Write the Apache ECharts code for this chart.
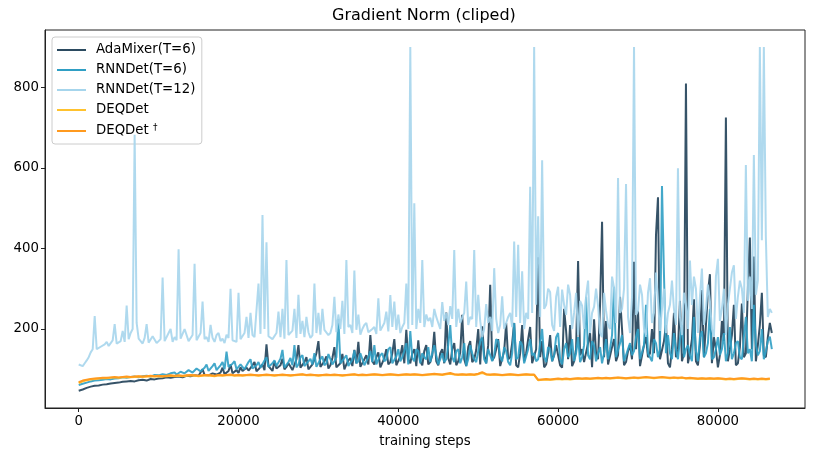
<!DOCTYPE html>
<html>
<head>
<meta charset="utf-8">
<script src="https://cdn.jsdelivr.net/npm/echarts@6/dist/echarts.min.js"></script>
<style>html,body{margin:0;padding:0;background:#fff}#c{width:815px;height:459px}</style>
</head>
<body>
<div id="c"></div>
<script>
// sample spacing in training steps (index i -> step i*STEP)
const STEP_FINE = 250;   // AdaMixer / RNNDet series
const STEP_DEQ = 500;    // DEQDet series
const xTicks = [0, 20000, 40000, 60000, 80000];
const yTicks = [200, 400, 600, 800];
const seriesNames = ['AdaMixer(T=6)', 'RNNDet(T=6)', 'RNNDet(T=12)', 'DEQDet', 'DEQDet †'];

const adaMixer = [
47,49, 50,52, 54,55, 57,58, 59,61,
60,61, 62,63, 63,64, 65,64, 66,68,
67,68, 69,68, 70,72, 71,69, 70,73,
73,72, 74,73, 72,75, 76,74, 75,77,
77,76, 78,79, 80,78, 79,82, 81,80,
82,81, 80,83, 84,82, 83,86, 85,83,
84,88, 100,86, 88,85, 87,90, 89,87,
86,92, 104,88, 92,96, 112,90, 94,98,
91,105, 96,92, 104,97, 98,110, 118,95,
100,104, 112,98, 162,108, 104,96, 120,102,
99,110, 126,100, 106,115, 118,98, 102,125,
160,104, 108,118, 130,100, 103,112, 124,140,
170,106, 108,120, 132,102, 110,128, 155,105,
104,115, 138,100, 112,122, 128,108, 148,115,
168,106, 110,125, 135,112, 185,120, 112,130,
142,105, 108,128, 150,112, 118,140, 175,110,
112,132, 160,115, 198,125, 115,140, 150,108,
172,120, 110,145, 160,112, 118,135, 193,120,
110,140, 150,115, 241,128, 112,150, 165,110,
120,142, 235,125, 108,155, 170,118, 125,148,
200,112, 207,135, 115,160, 310,122, 130,150,
175,108, 112,145, 215,125, 130,165, 215,110,
105,140, 210,120, 140,175, 205,115, 118,150,
378,130, 170,105, 112,140, 185,120, 135,160,
160,110, 104,250, 195,125, 210,108, 120,150,
369,135, 150,118, 115,165, 190,105, 224,140,
125,260, 466,130, 220,112, 110,155, 175,120,
135,280, 200,110, 118,145, 160,125, 367,150,
245,108, 112,160, 180,130, 140,200, 140,433,
527,125, 125,170, 210,115, 105,150, 240,130,
150,270, 120,140, 809,115, 140,175, 274,120,
110,160, 297,130, 130,290, 336,115, 180,150,
105,135, 220,170, 725,120, 150,185, 260,110,
115,155, 263,130, 140,300, 427,150, 380,120,
160,210, 290,135, 130,180, 215,190];

const rnnDet6 = [
61,62, 64,66, 67,68, 70,71, 72,71,
73,75, 74,73, 76,77, 75,78, 77,76,
78,80, 80,79, 79,82, 81,80, 82,83,
80,82, 83,85, 84,82, 82,85, 86,84,
85,87, 88,86, 86,89, 90,88, 92,87,
89,94, 96,90, 91,98, 100,92, 94,102,
106,95, 98,104, 112,96, 100,108, 115,98,
104,110, 118,100, 144,106, 108,114, 120,100,
102,112, 110,100, 104,118, 125,102, 100,110,
118,104, 108,122, 130,106, 102,115, 122,108,
110,126, 148,104, 106,118, 128,110, 160,105,
112,130, 135,108, 104,120, 126,112, 140,106,
110,125, 132,110, 115,138, 142,112, 120,130,
225,115, 118,128, 135,108, 112,124, 147,115,
120,140, 138,110, 108,130, 145,118, 160,112,
115,135, 140,120, 125,150, 155,115, 118,132,
150,120, 130,145, 165,112, 195,128, 120,150,
145,115, 140,130, 125,155, 118,120, 160,135,
112,125, 140,118, 125,160, 210,130, 118,145,
150,115, 130,165, 108,125, 160,140, 125,118,
145,170, 180,125, 115,150, 150,120, 135,175,
170,130, 120,155, 145,118, 110,140, 215,125,
130,170, 160,115, 118,150, 175,135, 140,120,
125,165, 200,130, 118,155, 150,120, 135,180,
190,125, 112,150, 165,130, 140,175, 120,140,
180,118, 130,160, 280,135, 125,170, 160,120,
140,155, 115,140, 175,125, 150,185, 305,130,
130,165, 185,120, 120,150, 165,135, 145,180,
200,125, 125,160, 260,140, 140,120, 175,165,
130,150, 555,334, 140,185, 140,125, 190,150,
125,175, 210,130, 150,160, 135,120, 230,145,
120,180, 195,130, 140,165, 250,125, 130,150,
180,135, 150,190, 120,140, 205,125, 140,165,
170,130, 125,180, 230,140, 150,120, 260,160,
135,145, 200,125, 145,170, 181,150];

const rnnDet12 = [
112,110, 108,115, 122,130, 142,150, 232,150,
152,156, 160,162, 168,158, 158,172, 212,164,
166,170, 195,168, 258,175, 190,200, 682,215,
176,170, 164,178, 212,166, 170,182, 182,165,
166,175, 328,170, 172,190, 200,168, 180,172,
398,176, 176,200, 196,170, 168,185, 362,172,
174,190, 268,175, 180,168, 210,178, 168,185,
190,170, 176,165, 186,178, 300,172, 172,168,
290,175, 172,190, 230,178, 240,185, 180,176,
313,188, 483,200, 415,182, 178,175, 172,190,
243,180, 250,176, 371,185, 182,196, 250,178,
285,188, 220,180, 230,192, 178,184, 313,190,
240,186, 250,198, 200,185, 190,210, 280,192,
236,200, 270,188, 371,205, 210,190, 345,198,
236,186, 200,210, 215,192, 195,200, 205,188,
276,196, 200,215, 243,194, 284,205, 268,198,
236,190, 205,215, 313,200, 900,210, 512,200,
250,215, 371,205, 236,220, 228,205, 250,230,
215,200, 267,220, 240,210, 257,225, 396,205,
250,215, 228,240, 318,210, 230,225, 396,205,
285,220, 180,200, 262,215, 230,195, 351,225,
190,210, 281,200, 200,230, 240,205, 417,230,
409,215, 343,200, 240,225, 553,240, 900,260,
480,230, 619,250, 260,300, 292,210, 195,280,
305,205, 298,260, 235,310, 285,200, 240,290,
185,270, 258,200, 282,320, 190,240, 255,300,
258,190, 180,290, 245,210, 200,330, 302,215,
575,240, 250,300, 560,230, 190,280, 900,235,
245,310, 285,200, 185,290, 326,215, 240,340,
270,195, 250,300, 190,240, 260,320, 250,210,
599,230, 185,290, 260,200, 370,260, 330,300,
190,280, 350,210, 250,310, 270,200, 180,330,
374,220, 250,300, 185,260, 260,340, 358,225,
280,320, 300,240, 607,270, 330,250, 632,285,
320,900, 420,900, 429,230, 250,240];

const deqDet = [
66,70,73,75,76,77,78,78,79,80,
79,80,81,80,81,82,81,82,83,82,
83,82,83,84,83,84,83,84,85,84,
83,84,85,84,83,85,84,85,86,84,
85,84,85,86,85,84,85,86,85,84,
85,86,85,84,85,86,87,85,86,85,
84,85,86,85,86,85,84,85,86,87,
85,86,85,86,87,86,85,86,87,86,
85,86,87,86,87,86,85,86,87,88,
87,86,88,89,87,86,87,86,87,86,
88,91,87,86,87,86,85,86,87,86,
85,86,87,86,86,73,74,75,74,75,
76,75,76,75,76,77,76,77,76,77,
78,77,78,77,78,79,78,77,78,79,
78,79,80,79,78,79,80,79,78,79,
78,79,77,78,77,76,77,76,77,76,
77,76,75,76,75,76,77,76,75,76,
75,76,75,76];

const deqDetDagger = [
68,72,74,76,77,78,79,79,80,81,
80,81,82,81,82,83,82,83,84,83,
84,83,84,85,84,85,84,85,86,85,
84,85,86,85,84,86,85,86,87,85,
86,85,86,87,86,85,86,87,86,85,
86,87,86,85,86,87,88,86,87,86,
85,86,87,86,87,86,85,86,87,88,
86,87,86,87,88,87,86,87,88,87,
86,87,88,87,88,87,86,87,88,89,
88,87,89,91,88,87,88,87,88,87,
89,93,88,87,88,87,86,87,88,87,
86,87,88,87,87,74,75,76,75,76,
77,76,77,76,77,78,77,78,77,78,
79,78,79,78,79,80,79,78,79,80,
79,80,81,80,79,80,81,80,79,80,
79,80,78,79,78,77,78,77,78,77,
78,77,76,77,76,77,78,77,76,77,
76,77,76,77];

const colors = ['#2b4a60', '#2f9fc4', '#a6d5ec', '#ffc22e', '#ff9a1f'];
const allData = [adaMixer, rnnDet6, rnnDet12, deqDet, deqDetDagger];
const steps = [STEP_FINE, STEP_FINE, STEP_FINE, STEP_DEQ, STEP_DEQ];
const opac = [0.95, 0.9, 0.9, 1, 1];

function pairs(arr, step) { return arr.map((v, i) => [i * step, v]); }

const FONT = 'DejaVu Sans';
const chart = echarts.init(document.getElementById('c'), null, {renderer: 'canvas'});
chart.setOption({
  animation: false,
  backgroundColor: '#fff',
  title: {
    text: 'Gradient Norm (cliped)',
    left: 332, top: 8, padding: 0,
    textStyle: {fontFamily: FONT, fontSize: 16, fontWeight: 'normal', color: '#000'}
  },
  legend: {
    orient: 'vertical',
    left: 52, top: 37,
    padding: [6, 6, 6, 5],
    icon: 'rect',
    itemWidth: 29, itemHeight: 2, itemGap: 6,
    borderColor: '#cccccc', borderWidth: 1, borderRadius: 3,
    backgroundColor: 'rgba(255,255,255,0.85)',
    data: seriesNames,
    formatter: function (name) {
      if (name === 'DEQDet †') return '{n|DEQDet }{d|†}';
      return '{n|' + name + '}';
    },
    textStyle: {
      fontFamily: FONT, fontSize: 13.3, color: '#000', padding: [0, 0, 0, 5], lineHeight: 14,
      rich: {
        n: {fontFamily: FONT, fontSize: 13.3, color: '#000', lineHeight: 14},
        d: {fontFamily: FONT, fontSize: 9, color: '#000', lineHeight: 14, verticalAlign: 'bottom', padding: [0, 0, 6, 0]}
      }
    }
  },
  grid: {
    left: 45, right: 10, top: 30, bottom: 51,
    show: true, borderColor: '#222', borderWidth: 1, backgroundColor: 'transparent'
  },
  xAxis: {
    type: 'value', min: -4220, max: 90900,
    name: 'training steps', nameLocation: 'middle', nameGap: 27,
    nameTextStyle: {fontFamily: FONT, fontSize: 13.3, color: '#000'},
    axisLine: {show: true, onZero: false, lineStyle: {color: '#222', width: 1}},
    axisTick: {show: true, length: 4, customValues: xTicks, lineStyle: {color: '#222'}},
    axisLabel: {customValues: xTicks, fontFamily: FONT, fontSize: 13.3, color: '#000', margin: 7,
      formatter: function (v) { return String(v); }},
    splitLine: {show: false}
  },
  yAxis: {
    type: 'value', min: 4, max: 942,
    axisLine: {show: true, onZero: false, lineStyle: {color: '#222', width: 1}},
    axisTick: {show: true, length: 4, customValues: yTicks, lineStyle: {color: '#222'}},
    axisLabel: {customValues: yTicks, fontFamily: FONT, fontSize: 13.3, color: '#000', margin: 6,
      formatter: function (v) { return String(v); }},
    splitLine: {show: false}
  },
  series: seriesNames.map((name, k) => ({
    name: name,
    type: 'line',
    data: pairs(allData[k], steps[k]),
    symbol: 'none',
    showSymbol: false,
    color: colors[k],
    lineStyle: {color: colors[k], width: 2, opacity: opac[k]},
    itemStyle: {color: colors[k]},
    emphasis: {disabled: true},
    z: 2 + k
  }))
});
</script>
</body>
</html>
